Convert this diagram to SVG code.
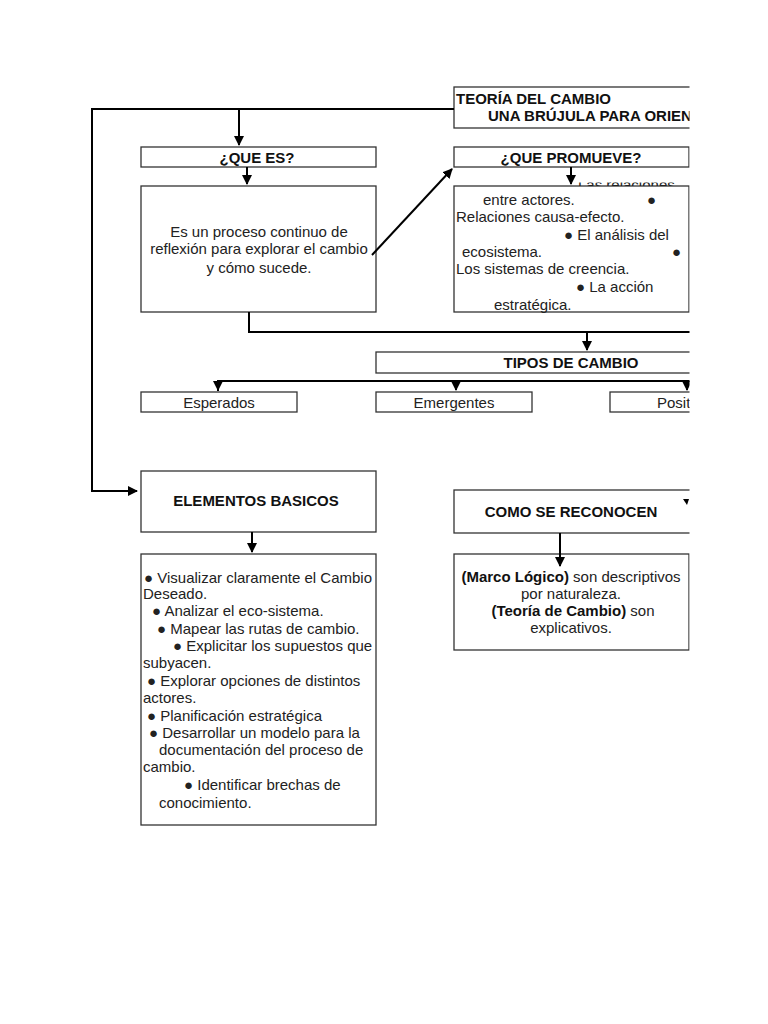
<svg xmlns="http://www.w3.org/2000/svg" width="768" height="1024" viewBox="0 0 768 1024">
<defs>
<clipPath id="page"><rect x="0" y="0" width="689.5" height="1024"/></clipPath>
<clipPath id="overflow"><rect x="454" y="182.5" width="235" height="3.5"/></clipPath>
<marker id="ah" viewBox="0 0 10 10" refX="9" refY="5" markerWidth="5" markerHeight="5" orient="auto"><path d="M0,0 L10,5 L0,10 z" fill="#000"/></marker>
<style>
.box{fill:#fff;stroke:#333;stroke-width:1.3}
.t{font-family:"Liberation Sans",Arial,sans-serif;font-size:15px;fill:#222}
.b{font-family:"Liberation Sans",Arial,sans-serif;font-size:15px;font-weight:bold;fill:#111}
.c{text-anchor:middle}
.ln{fill:none;stroke:#000;stroke-width:2}
</style>
</defs>
<rect width="768" height="1024" fill="#fff"/>
<g clip-path="url(#page)">
<g id="n-titulo">
<rect class="box" x="454" y="87" width="260" height="41"/>
<text class="b" x="456" y="104">TEORÍA DEL CAMBIO</text>
<text class="b" x="488" y="121">UNA BRÚJULA PARA ORIENTAR</text>
</g>
<g id="n-quees">
<rect class="box" x="141" y="147" width="235" height="20"/>
<text class="b c" x="257" y="163">¿QUE ES?</text>
</g>
<g id="n-quees-def">
<rect class="box" x="141" y="186" width="235" height="126"/>
<text class="t c" x="259" y="237">Es un proceso continuo de</text>
<text class="t c" x="259" y="254">reflexión para explorar el cambio</text>
<text class="t c" x="259" y="273">y cómo sucede.</text>
</g>
<g id="n-promueve">
<rect class="box" x="454" y="147" width="235" height="20"/>
<text class="b c" x="571" y="163">¿QUE PROMUEVE?</text>
</g>
<g id="n-promueve-list">
<rect class="box" x="454" y="186" width="235" height="126"/>
<text class="t" x="578" y="190" clip-path="url(#overflow)">Las relaciones</text>
<text class="t" x="483" y="205">entre actores.</text>
<text class="t" x="647" y="205">●</text>
<text class="t" x="456" y="222">Relaciones causa-efecto.</text>
<text class="t" x="564" y="240">● El análisis del</text>
<text class="t" x="462" y="257">ecosistema.</text>
<text class="t" x="672" y="257">●</text>
<text class="t" x="456" y="274">Los sistemas de creencia.</text>
<text class="t" x="576" y="292">● La acción</text>
<text class="t" x="494" y="310">estratégica.</text>
</g>
<g id="n-tipos">
<rect class="box" x="376" y="352" width="330" height="21"/>
<text class="b c" x="571" y="368">TIPOS DE CAMBIO</text>
</g>
<g id="n-esperados">
<rect class="box" x="141" y="392" width="156" height="20"/>
<text class="t c" x="219" y="408">Esperados</text>
</g>
<g id="n-emergentes">
<rect class="box" x="376" y="392" width="156" height="20"/>
<text class="t c" x="454" y="408">Emergentes</text>
</g>
<g id="n-positivos">
<rect class="box" x="610" y="392" width="156" height="20"/>
<text class="t" x="657" y="408">Positivos</text>
</g>
<g id="n-elementos">
<rect class="box" x="141" y="471" width="235" height="61"/>
<text class="b c" x="256" y="506">ELEMENTOS BASICOS</text>
</g>
<g id="n-elementos-list">
<rect class="box" x="141" y="554" width="235" height="271"/>
<text class="t" x="144" y="583">● Visualizar claramente el Cambio</text>
<text class="t" x="143" y="599">Deseado.</text>
<text class="t" x="152" y="616">● Analizar el eco-sistema.</text>
<text class="t" x="157" y="634">● Mapear las rutas de cambio.</text>
<text class="t" x="173" y="651">● Explicitar los supuestos que</text>
<text class="t" x="143" y="668">subyacen.</text>
<text class="t" x="147" y="686">● Explorar opciones de distintos</text>
<text class="t" x="143" y="703">actores.</text>
<text class="t" x="147" y="721">● Planificación estratégica</text>
<text class="t" x="149" y="738">● Desarrollar un modelo para la</text>
<text class="t" x="159" y="755">documentación del proceso de</text>
<text class="t" x="143" y="772">cambio.</text>
<text class="t" x="184" y="790">● Identificar brechas de</text>
<text class="t" x="159" y="808">conocimiento.</text>
</g>
<g id="n-reconocen">
<rect class="box" x="454" y="490" width="260" height="43"/>
<text class="b c" x="571" y="517">COMO SE RECONOCEN</text>
</g>
<g id="n-reconocen-def">
<rect class="box" x="454" y="554" width="235" height="96"/>
<text class="t c" x="571" y="582"><tspan class="b">(Marco Lógico)</tspan> son descriptivos</text>
<text class="t c" x="571" y="599">por naturaleza.</text>
<text class="t c" x="573" y="616"><tspan class="b">(Teoría de Cambio)</tspan> son</text>
<text class="t c" x="571" y="633">explicativos.</text>
</g>
<g id="connectors">
<path class="ln" d="M454,109 H92 V491 H137" marker-end="url(#ah)"/>
<path class="ln" d="M239,109 V145" marker-end="url(#ah)"/>
<path class="ln" d="M247,167 V184" marker-end="url(#ah)"/>
<path class="ln" d="M372,255 L452,169" marker-end="url(#ah)"/>
<path class="ln" d="M571,167 V184" marker-end="url(#ah)"/>
<path class="ln" d="M249,312 V332 H700"/>
<path class="ln" d="M587,332 V350" marker-end="url(#ah)"/>
<path class="ln" d="M218,391 V381 H700"/>
<path class="ln" d="M218,381 V390" marker-end="url(#ah)"/>
<path class="ln" d="M456,381 V390" marker-end="url(#ah)"/>
<path class="ln" d="M687,381 V390" marker-end="url(#ah)"/>
<path class="ln" d="M252,532 V552" marker-end="url(#ah)"/>
<path class="ln" d="M560,533 V566" marker-end="url(#ah)"/>
<path d="M683,499 L689,499 L687,505 z" fill="#000"/>
</g>
</g>
</svg>
